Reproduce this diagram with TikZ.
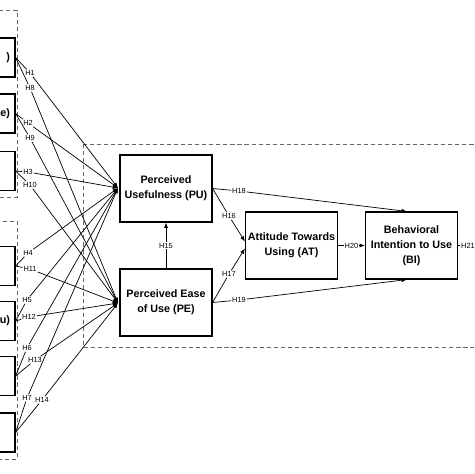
\documentclass[tikz,border=0pt]{standalone}
\usepackage{fontspec}
\setmainfont{Liberation Sans}
\usetikzlibrary{positioning,arrows.meta}

\begin{document}
\begin{tikzpicture}[
  x=0.03cm, y=-0.03cm,
  font=\fontsize{9.2}{12.8}\selectfont\bfseries,
  box/.style={draw, line width=1pt, minimum width=2.76cm, minimum height=2.01cm, align=center, inner sep=2pt},
  lbox/.style={draw, line width=1pt, minimum height=1.17cm, text width=2.16cm, inner xsep=0.15cm, align=right},
  grp/.style={draw=black!60, dash pattern=on 3.5pt off 2.5pt, line width=0.7pt},
  hyp/.style={font=\fontsize{6.3}{7}\selectfont, inner sep=0.8pt},
  arr/.style={-{Latex[length=4.5pt,width=3.5pt]}, line width=0.6pt},
  ln/.style={line width=0.6pt}
]
\useasboundingbox (0,0) rectangle (474,474);
\clip (0,0) rectangle (474,474);

% dashed groups
\draw[grp] (-10,10) rectangle (17,197);
\draw[grp] (-10,221) rectangle (17,459);
\draw[grp] (83,144) rectangle (490,347);

% main constructs
\node[box] (pu) at (166,188.5) {Perceived\\Usefulness (PU)};
\node[box] (pe) at (166,302.5) {Perceived Ease\\of Use (PE)};
\node[box] (at) at (291.5,245.5) {Attitude Towards\\Using (AT)};
\node[box] (bi) at (411.5,245.5) {Behavioral\\Intention to Use\\(BI)};

% external factors (cut off at the left)
\node[lbox] (f1) at (-26,57.5) {)};
\node[lbox] (f2) at (-26,113.5) {e)};
\node[lbox] (f3) at (-26,171) {};
\node[lbox] (f4) at (-26,266) {};
\node[lbox] (f5) at (-26,321) {u)};
\node[lbox] (f6) at (-26,376) {};
\node[lbox] (f7) at (-26,432.5) {};

\coordinate (pu-in) at (118,188);
\coordinate (pe-in) at (118,303);

% hypothesis labels
\node[hyp] (h1) at (30,73) {H1};
\node[hyp] (h8) at (30,88) {H8};
\node[hyp] (h2) at (28,123) {H2};
\node[hyp] (h9) at (30,138) {H9};
\node[hyp] (h3) at (28,172) {H3};
\node[hyp] (h10) at (30,185) {H10};
\node[hyp] (h4) at (28,253) {H4};
\node[hyp] (h11) at (30,269) {H11};
\node[hyp] (h5) at (27,300) {H5};
\node[hyp] (h12) at (29,317) {H12};
\node[hyp] (h6) at (27,348) {H6};
\node[hyp] (h13) at (35,360) {H13};
\node[hyp] (h7) at (27,398) {H7};
\node[hyp] (h14) at (42,400) {H14};

\foreach \f/\a/\b in {f1/h1/h8, f2/h2/h9, f3/h3/h10, f4/h4/h11, f5/h5/h12, f6/h6/h13, f7/h7/h14} {
  \draw[arr] (\f.east) -- (\a) -- (pu-in);
  \draw[arr] (\f.east) -- (\b) -- (pe-in);
}

% PE -> PU
\draw[arr] (pe.north) -- node[hyp, fill=white] {H15} (pu.south);

% to AT
\node[hyp] (h16) at (229,216) {H16};
\node[hyp] (h17) at (229,274) {H17};
\draw[arr] (pu.east) -- (h16) -- ([yshift=0.12cm]at.west);
\draw[arr] (pe.east) -- (h17) -- ([yshift=-0.09cm]at.west);

% to BI
\node[hyp] (h18) at (239,191) {H18};
\node[hyp] (h19) at (239,300) {H19};
\draw[arr] (pu.east) -- (h18) -- ([xshift=-0.14cm]bi.north);
\draw[arr] (pe.east) -- (h19) -- ([xshift=-0.14cm]bi.south);
\draw[arr] (at.east) -- node[hyp, fill=white] {H20} (bi.west);

\node[hyp, anchor=west] (h21) at (460,246) {H21};
\draw[ln] (bi.east) -- (h21);

\end{tikzpicture}
\end{document}
